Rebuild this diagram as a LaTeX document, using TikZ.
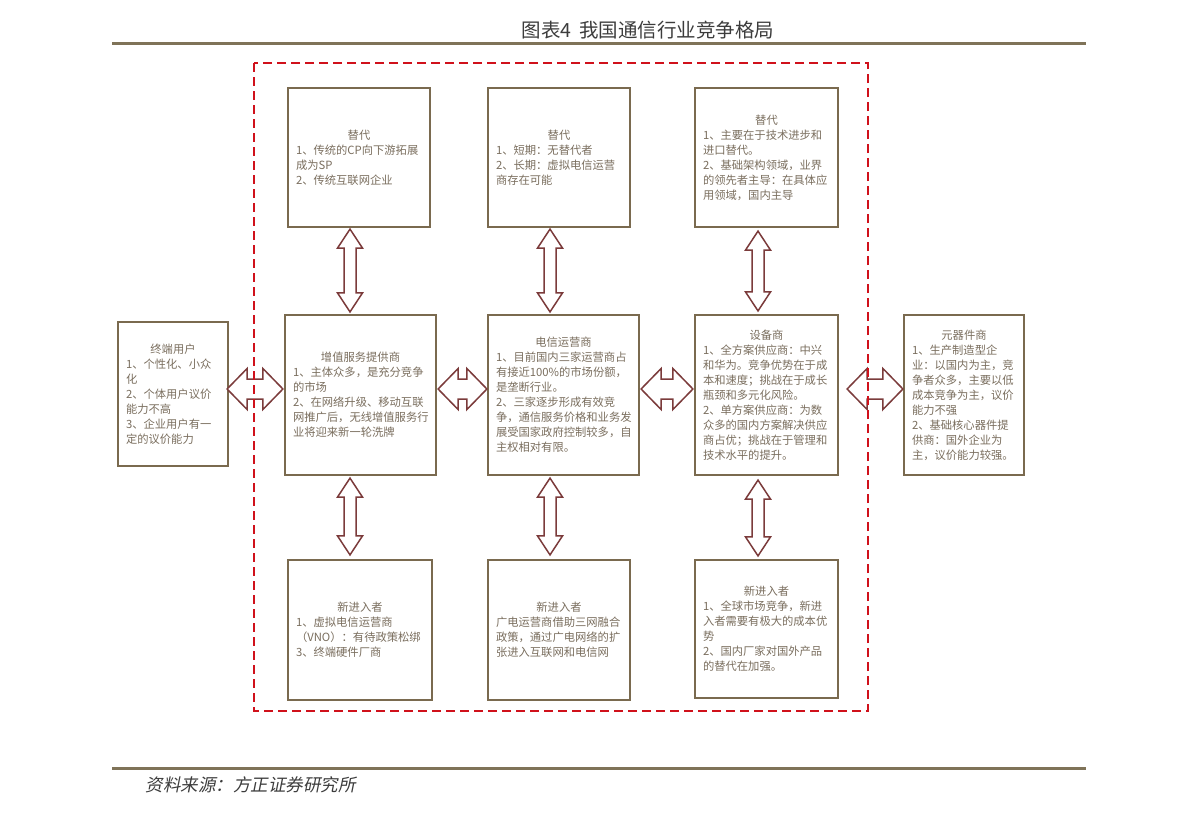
\documentclass[tikz,border=0pt]{standalone}
\usepackage{fontspec}
\setmainfont{Noto Sans CJK SC}
\newfontfamily\srcfont[FakeSlant=0.2]{Noto Sans CJK SC}
\usetikzlibrary{calc}

\definecolor{rulec}{HTML}{7F7358}
\definecolor{boxc}{HTML}{7A6A4F}
\definecolor{txtc}{HTML}{7A6E5E}
\definecolor{arrc}{HTML}{7B3B3B}
\definecolor{dashc}{HTML}{D0111B}
\definecolor{titc}{HTML}{3C3C3C}

\tikzset{
  box/.style={draw=boxc, line width=2.2pt, fill=white, inner xsep=8pt, inner ysep=3pt,
    align=left, text=txtc, font=\fontsize{11.3}{15}\selectfont},
  blockarrow/.style={draw=arrc, line width=1.5pt, fill=white, line join=miter},
  frame/.style={draw=dashc, line width=2pt, dash pattern=on 9pt off 5pt},
  rule/.style={draw=rulec, line width=3pt}
}

\newcommand{\hdblarrow}[2]{%
  \draw[blockarrow] let \p1=(#1), \p2=(#2) in
    (\x1,\y1) -- (\x1+20pt,\y1+20.5pt) -- (\x1+20pt,\y1+10pt) -- (\x2-20pt,\y1+10pt)
    -- (\x2-20pt,\y1+20.5pt) -- (\x2,\y1) -- (\x2-20pt,\y1-20.5pt) -- (\x2-20pt,\y1-10pt)
    -- (\x1+20pt,\y1-10pt) -- (\x1+20pt,\y1-20.5pt) -- cycle;}
\newcommand{\vdblarrow}[2]{%
  \draw[blockarrow] let \p1=(#1), \p2=(#2) in
    (\x1,\y1) -- (\x1+12.5pt,\y1-19pt) -- (\x1+6pt,\y1-19pt) -- (\x1+6pt,\y2+19pt)
    -- (\x1+12.5pt,\y2+19pt) -- (\x1,\y2) -- (\x1-12.5pt,\y2+19pt) -- (\x1-6pt,\y2+19pt)
    -- (\x1-6pt,\y1-19pt) -- (\x1-12.5pt,\y1-19pt) -- cycle;}

\begin{document}
\begin{tikzpicture}[x=1pt,y=-1pt]
\useasboundingbox (0,0) rectangle (1191,816);

\draw node[text=titc, font=\fontsize{19.5}{22}\selectfont] (title) at (648,30) {图表4\hspace{8pt}我国通信行业竞争格局};
\draw[rule] (112,44) -- (1086,44);
\draw[rule] (112,768) -- (1086,768);
\draw node[anchor=west, text=titc, font=\srcfont\fontsize{17.5}{19}\selectfont] (src) at (142,785) {资料来源：方正证券研究所};

\draw node[box, minimum width=142pt, minimum height=139pt, text width=126pt] (tl) at (359,157.5)
  {\makebox[\linewidth]{替代}\\1、传统的CP向下游拓展\\成为SP\\2、传统互联网企业};
\draw node[box, minimum width=142pt, minimum height=139pt, text width=126pt] (tm) at (559,157.5)
  {\makebox[\linewidth]{替代}\\1、短期：无替代者\\2、长期：虚拟电信运营\\商存在可能};
\draw node[box, minimum width=143pt, minimum height=139pt, text width=127pt] (tr) at (766.5,157.5)
  {\makebox[\linewidth]{替代}\\1、主要在于技术进步和\\进口替代。\\2、基础架构领域，业界\\的领先者主导：在具体应\\用领域，国内主导};

\draw node[box, minimum width=110pt, minimum height=144pt, text width=94pt] (ue) at (173,394)
  {\makebox[\linewidth]{终端用户}\\1、个性化、小众\\化\\2、个体用户议价\\能力不高\\3、企业用户有一\\定的议价能力};
\draw node[box, minimum width=151pt, minimum height=160pt, text width=135pt] (vas) at (360.5,395)
  {\makebox[\linewidth]{增值服务提供商}\\1、主体众多，是充分竞争\\的市场\\2、在网络升级、移动互联\\网推广后，无线增值服务行\\业将迎来新一轮洗牌};
\draw node[box, minimum width=151pt, minimum height=160pt, text width=135pt] (op) at (563.5,395)
  {\makebox[\linewidth]{电信运营商}\\1、目前国内三家运营商占\\有接近100\%的市场份额，\\是垄断行业。\\2、三家逐步形成有效竞\\争，通信服务价格和业务发\\展受国家政府控制较多，自\\主权相对有限。};
\draw node[box, minimum width=143pt, minimum height=160pt, text width=127pt] (eq) at (766.5,395)
  {\makebox[\linewidth]{设备商}\\1、全方案供应商：中兴\\和华为。竞争优势在于成\\本和速度；挑战在于成长\\瓶颈和多元化风险。\\2、单方案供应商：为数\\众多的国内方案解决供应\\商占优；挑战在于管理和\\技术水平的提升。};
\draw node[box, minimum width=120pt, minimum height=160pt, text width=104pt] (comp) at (964,395)
  {\makebox[\linewidth]{元器件商}\\1、生产制造型企\\业：以国内为主，竞\\争者众多，主要以低\\成本竞争为主，议价\\能力不强\\2、基础核心器件提\\供商：国外企业为\\主，议价能力较强。};

\draw node[box, minimum width=144pt, minimum height=140pt, text width=128pt] (bl) at (360,630)
  {\makebox[\linewidth]{新进入者}\\1、虚拟电信运营商\\（VNO）：有待政策松绑\\3、终端硬件厂商};
\draw node[box, minimum width=142pt, minimum height=140pt, text width=126pt] (bm) at (559,630)
  {\makebox[\linewidth]{新进入者}\\广电运营商借助三网融合\\政策，通过广电网络的扩\\张进入互联网和电信网};
\draw node[box, minimum width=143pt, minimum height=138pt, text width=127pt] (br) at (766.5,629)
  {\makebox[\linewidth]{新进入者}\\1、全球市场竞争，新进\\入者需要有极大的成本优\\势\\2、国内厂家对国外产品\\的替代在加强。};

\coordinate (tl_) at ($(tl.south)+(-9,1)$);
\coordinate (tm_) at ($(tm.south)+(-9,1)$);
\coordinate (tr_) at ($(tr.south)+(-8.5,3)$);
\coordinate (vas_n) at ($(vas.north)+(0,-2)$);
\coordinate (op_n) at ($(op.north)+(0,-2)$);
\coordinate (eq_n) at ($(eq.north)+(0,-3)$);
\coordinate (vas_s) at ($(vas.south)+(-10.5,2)$);
\coordinate (op_s) at ($(op.south)+(-13.5,2)$);
\coordinate (eq_s) at ($(eq.south)+(-8.5,4)$);
\coordinate (bl_) at ($(bl.north)+(0,-4)$);
\coordinate (bm_) at ($(bm.north)+(0,-4)$);
\coordinate (br_) at ($(br.north)+(0,-3)$);

\coordinate (ue_) at ($(ue.east)+(-2,-5)$);
\coordinate (vas_w) at ($(vas.west)+(-1,0)$);
\coordinate (vas_e) at ($(vas.east)+(1,-6)$);
\coordinate (op_w) at (op.west);
\coordinate (op_e) at ($(op.east)+(1,-6)$);
\coordinate (eq_w) at ($(eq.west)+(-1,0)$);
\coordinate (eq_e) at ($(eq.east)+(8,-6)$);
\coordinate (comp_w) at (comp.west);

\foreach \from/\to in {tl_/vas_n, tm_/op_n, tr_/eq_n, vas_s/bl_, op_s/bm_, eq_s/br_}
	\vdblarrow{\from}{\to};

\foreach \from/\to in {ue_/vas_w, vas_e/op_w, op_e/eq_w, eq_e/comp_w}
	\hdblarrow{\from}{\to};

\draw[frame] (254,63) rectangle (868,711);

\end{tikzpicture}
\end{document}
